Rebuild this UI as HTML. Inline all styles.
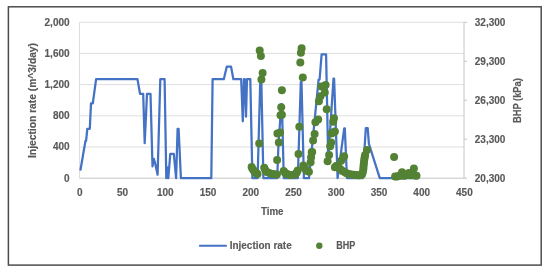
<!DOCTYPE html><html><head><meta charset="utf-8"><title>Injection rate and BHP</title>
<style>html,body{margin:0;padding:0;background:#fff}svg{display:block}text{font-family:"Liberation Sans",sans-serif;font-size:10px;font-weight:bold;fill:#595959;stroke:#595959;stroke-width:0.15px}</style></head><body>
<svg width="550" height="273" viewBox="0 0 550 273">
<rect x="0" y="0" width="550" height="273" fill="#fff"/>
<rect x="8.4" y="6.8" width="532.8" height="258.3" fill="#fff" stroke="#4d4d4d" stroke-width="1.5"/>
<line x1="79.5" y1="22.3" x2="464.0" y2="22.3" stroke="#d6d6d6" stroke-width="0.8"/>
<line x1="79.5" y1="53.4" x2="464.0" y2="53.4" stroke="#d6d6d6" stroke-width="0.8"/>
<line x1="79.5" y1="84.6" x2="464.0" y2="84.6" stroke="#d6d6d6" stroke-width="0.8"/>
<line x1="79.5" y1="115.8" x2="464.0" y2="115.8" stroke="#d6d6d6" stroke-width="0.8"/>
<line x1="79.5" y1="147.0" x2="464.0" y2="147.0" stroke="#d6d6d6" stroke-width="0.8"/>
<line x1="79.5" y1="178.2" x2="464.0" y2="178.2" stroke="#c6c6c6" stroke-width="1"/>
<line x1="79.5" y1="22.3" x2="79.5" y2="178.2" stroke="#d6d6d6" stroke-width="0.8"/>
<line x1="464.0" y1="22.3" x2="464.0" y2="178.2" stroke="#c6c6c6" stroke-width="1"/>
<line x1="464.0" y1="22.3" x2="467.0" y2="22.3" stroke="#c6c6c6" stroke-width="1"/>
<line x1="464.0" y1="61.3" x2="467.0" y2="61.3" stroke="#c6c6c6" stroke-width="1"/>
<line x1="464.0" y1="100.2" x2="467.0" y2="100.2" stroke="#c6c6c6" stroke-width="1"/>
<line x1="464.0" y1="139.2" x2="467.0" y2="139.2" stroke="#c6c6c6" stroke-width="1"/>
<line x1="464.0" y1="178.2" x2="467.0" y2="178.2" stroke="#c6c6c6" stroke-width="1"/>
<polyline points="80.5,169.7 85.5,140.8 86.1,140.8 87.3,128.8 89.8,128.8 91,103.4 92.8,103.4 96.1,79.2 137.5,79.2 140,93.8 143.2,93.8 144.7,143.1 147,93.8 150.5,93.8 152.5,166.4 153.8,158.9 155.3,163.9 157.6,174.7 160.3,79.2 164.6,79.2 166.3,178.2 167,167 168.3,178.2 170.3,153.9 173.8,153.9 176.1,178.2 177.6,128.8 178.6,128.8 180.9,178.2 211.3,178.2 212.6,79.2 223.8,79.2 226.8,66.5 231,66.5 233.4,79.2 241.2,79.2 242.8,121.3 244,79.2 244.8,79.2 246,116.7 247,79.2 250.3,79.2 252.4,178.2 257.6,178.2 260.3,79.2 261.3,79.2 263.4,178.2 277.2,178.2 278.4,146 281.3,104 281.9,104 283.8,178.2 297.8,178.2 300.8,82 301.5,82 303.9,178.2 309,178.2 318.6,79.5 319.6,79.5 321.6,54.4 326.1,54.4 328.2,160 333.5,78.6 334.1,78.6 337.6,178.2 344.2,128.4 344.8,128.4 347,178.2 362.7,178.2 365.8,128.2 367.7,128.2 368.9,143.8 379.8,178.2 414,178.2" fill="none" stroke="#4472c4" stroke-width="2.25" stroke-linejoin="round" stroke-linecap="round"/>
<g fill="#548235">
<circle cx="251.6" cy="167" r="4"/>
<circle cx="252.6" cy="169" r="4"/>
<circle cx="253.8" cy="170.8" r="4"/>
<circle cx="255" cy="172.3" r="4"/>
<circle cx="256.3" cy="173.3" r="4"/>
<circle cx="257.5" cy="173.9" r="4"/>
<circle cx="259.7" cy="50.4" r="4"/>
<circle cx="260.9" cy="56" r="4"/>
<circle cx="262.6" cy="72.9" r="4"/>
<circle cx="261.4" cy="79.6" r="4"/>
<circle cx="259.2" cy="143.5" r="4"/>
<circle cx="264.2" cy="167.8" r="4"/>
<circle cx="265.4" cy="170.3" r="4"/>
<circle cx="266.8" cy="172" r="4"/>
<circle cx="269.2" cy="173" r="4"/>
<circle cx="271.8" cy="173.7" r="4"/>
<circle cx="274.4" cy="174.2" r="4"/>
<circle cx="276.9" cy="174.5" r="4"/>
<circle cx="277.1" cy="160" r="4"/>
<circle cx="277.4" cy="133.5" r="4"/>
<circle cx="280.1" cy="132.6" r="4"/>
<circle cx="278.8" cy="142.6" r="4"/>
<circle cx="281.9" cy="90.3" r="4"/>
<circle cx="281.2" cy="107.2" r="4"/>
<circle cx="281.9" cy="114.8" r="4"/>
<circle cx="280.5" cy="115.3" r="4"/>
<circle cx="283.7" cy="171" r="4"/>
<circle cx="285" cy="172.8" r="4"/>
<circle cx="286.5" cy="173.9" r="4"/>
<circle cx="288.5" cy="174.6" r="4"/>
<circle cx="290.5" cy="175" r="4"/>
<circle cx="292.8" cy="174.9" r="4"/>
<circle cx="295.1" cy="174.3" r="4"/>
<circle cx="296.6" cy="172.8" r="4"/>
<circle cx="297.7" cy="170.4" r="4"/>
<circle cx="298.5" cy="154" r="4"/>
<circle cx="299.3" cy="126.8" r="4"/>
<circle cx="302.8" cy="77.5" r="4"/>
<circle cx="300.3" cy="62.5" r="4"/>
<circle cx="300.9" cy="52.8" r="4"/>
<circle cx="301.6" cy="48.2" r="4"/>
<circle cx="303.3" cy="165.6" r="4"/>
<circle cx="304.5" cy="167.8" r="4"/>
<circle cx="305.8" cy="169.5" r="4"/>
<circle cx="307.3" cy="171" r="4"/>
<circle cx="308.9" cy="171.8" r="4"/>
<circle cx="310.6" cy="162.3" r="4"/>
<circle cx="311.1" cy="157.3" r="4"/>
<circle cx="311.7" cy="152.2" r="4"/>
<circle cx="312.2" cy="152" r="4"/>
<circle cx="313.1" cy="140.5" r="4"/>
<circle cx="314.6" cy="134" r="4"/>
<circle cx="315.4" cy="122.3" r="4"/>
<circle cx="318.2" cy="119.6" r="4"/>
<circle cx="318.9" cy="101.2" r="4"/>
<circle cx="320.5" cy="96.3" r="4"/>
<circle cx="321.4" cy="86.6" r="4"/>
<circle cx="324.8" cy="92.6" r="4"/>
<circle cx="325.6" cy="84.9" r="4"/>
<circle cx="326.7" cy="109.3" r="4"/>
<circle cx="331.2" cy="142.6" r="4"/>
<circle cx="330.2" cy="146.2" r="4"/>
<circle cx="329.1" cy="154.9" r="4"/>
<circle cx="327.6" cy="161.2" r="4"/>
<circle cx="334" cy="118.3" r="4"/>
<circle cx="333.2" cy="121.8" r="4"/>
<circle cx="334.9" cy="131.6" r="4"/>
<circle cx="331.4" cy="133.6" r="4"/>
<circle cx="333.2" cy="132.5" r="4"/>
<circle cx="334.9" cy="167.2" r="4"/>
<circle cx="336.2" cy="166" r="4"/>
<circle cx="337.6" cy="165.8" r="4"/>
<circle cx="339" cy="168" r="4"/>
<circle cx="340.7" cy="169.6" r="4"/>
<circle cx="342.5" cy="171" r="4"/>
<circle cx="344.5" cy="172.1" r="4"/>
<circle cx="346.5" cy="173.2" r="4"/>
<circle cx="348.9" cy="174" r="4"/>
<circle cx="351.3" cy="174.4" r="4"/>
<circle cx="353.9" cy="174.7" r="4"/>
<circle cx="356.4" cy="175" r="4"/>
<circle cx="358.9" cy="175.2" r="4"/>
<circle cx="360.8" cy="175" r="4"/>
<circle cx="362" cy="174.6" r="4"/>
<circle cx="362.8" cy="172.3" r="4"/>
<circle cx="363.3" cy="169.6" r="4"/>
<circle cx="363.5" cy="167" r="4"/>
<circle cx="363.7" cy="164.5" r="4"/>
<circle cx="364" cy="162" r="4"/>
<circle cx="364.3" cy="159.5" r="4"/>
<circle cx="364.7" cy="157" r="4"/>
<circle cx="365.1" cy="155" r="4"/>
<circle cx="367" cy="150.1" r="4"/>
<circle cx="343.5" cy="157" r="4"/>
<circle cx="341.2" cy="160.8" r="4"/>
<circle cx="344.1" cy="156.2" r="4"/>
<circle cx="394.1" cy="157" r="4"/>
<circle cx="395.1" cy="176.6" r="4"/>
<circle cx="397" cy="176.4" r="4"/>
<circle cx="398.8" cy="176.1" r="4"/>
<circle cx="400.5" cy="175.5" r="4"/>
<circle cx="402" cy="172.3" r="4"/>
<circle cx="403.5" cy="175.8" r="4"/>
<circle cx="405.1" cy="175.5" r="4"/>
<circle cx="407" cy="175" r="4"/>
<circle cx="408.9" cy="173" r="4"/>
<circle cx="410.8" cy="175.3" r="4"/>
<circle cx="412.6" cy="174.9" r="4"/>
<circle cx="413.9" cy="168.6" r="4"/>
<circle cx="415.1" cy="175.5" r="4"/>
<circle cx="416.5" cy="175.8" r="4"/>
</g>
<text x="69.6" y="25.6" text-anchor="end">2,000</text>
<text x="69.6" y="56.8" text-anchor="end">1,600</text>
<text x="69.6" y="88.0" text-anchor="end">1,200</text>
<text x="69.6" y="119.1" text-anchor="end">800</text>
<text x="69.6" y="150.3" text-anchor="end">400</text>
<text x="69.6" y="181.5" text-anchor="end">0</text>
<text x="474.8" y="25.6">32,300</text>
<text x="474.8" y="64.6">29,300</text>
<text x="474.8" y="103.5">26,300</text>
<text x="474.8" y="142.5">23,300</text>
<text x="474.8" y="181.5">20,300</text>
<text x="79.9" y="196.3" text-anchor="middle">0</text>
<text x="122.6" y="196.3" text-anchor="middle">50</text>
<text x="165.3" y="196.3" text-anchor="middle">100</text>
<text x="208.1" y="196.3" text-anchor="middle">150</text>
<text x="250.8" y="196.3" text-anchor="middle">200</text>
<text x="293.5" y="196.3" text-anchor="middle">250</text>
<text x="336.2" y="196.3" text-anchor="middle">300</text>
<text x="379.0" y="196.3" text-anchor="middle">350</text>
<text x="421.7" y="196.3" text-anchor="middle">400</text>
<text x="464.4" y="196.3" text-anchor="middle">450</text>
<text x="272.2" y="214.8" text-anchor="middle" textLength="22.6" lengthAdjust="spacingAndGlyphs">Time</text>
<text transform="translate(36.2,100.5) rotate(-90)" text-anchor="middle" textLength="115" lengthAdjust="spacingAndGlyphs">Injection rate (m^3/day)</text>
<text transform="translate(521.4,100.6) rotate(-90)" text-anchor="middle" textLength="45" lengthAdjust="spacingAndGlyphs">BHP (kPa)</text>
<line x1="199.8" y1="245.7" x2="226" y2="245.7" stroke="#4472c4" stroke-width="2" stroke-linecap="round"/>
<text x="229.7" y="249.3" textLength="62" lengthAdjust="spacingAndGlyphs">Injection rate</text>
<circle cx="319.3" cy="245.7" r="3.2" fill="#548235"/>
<text x="336.2" y="249.3" textLength="19" lengthAdjust="spacingAndGlyphs">BHP</text>
</svg></body></html>
